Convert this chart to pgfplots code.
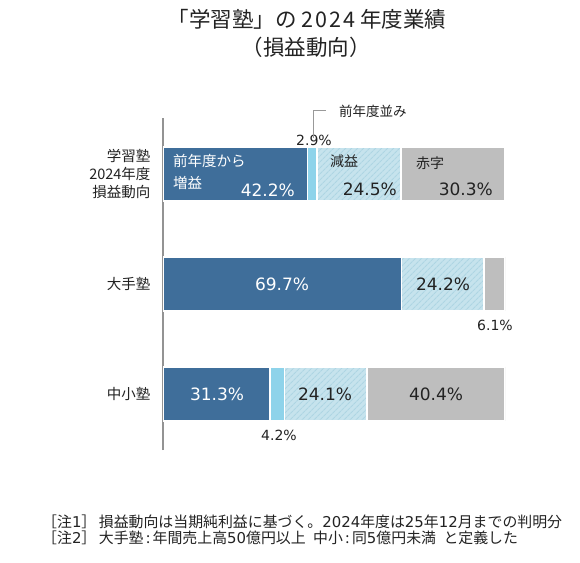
\documentclass[border=0pt]{standalone}
\usepackage{pgfplots}
\pgfplotsset{compat=1.18}
\usepackage{fontspec}
\usetikzlibrary{patterns.meta}
\setmainfont{Noto Sans CJK JP}
\newfontfamily\num{DejaVu Sans}

\definecolor{darkblue}{HTML}{3F6E9A}
\definecolor{lightblue}{HTML}{8ED3EA}
\definecolor{hatchbg}{HTML}{C6E3ED}
\definecolor{hatchln}{HTML}{AED5E3}
\definecolor{graybar}{HTML}{BEBEBE}
\definecolor{txt}{HTML}{222222}

\begin{document}
\begin{tikzpicture}[x=1pt,y=1pt]
\useasboundingbox (0,0) rectangle (580,562);

% title
\node[font=\fontsize{21.5}{24}\selectfont, text=txt] at (307,543) {「学習塾」の 2\kern2pt0\kern2pt2\kern2pt4 年度業績};
\node[font=\fontsize{21.5}{24}\selectfont, text=txt] at (306,515) {（損益動向）};

\begin{axis}[
    at={(163pt,112pt)}, anchor=south west,
    scale only axis,
    width=342pt, height=332pt,
    xbar stacked,
    bar width=54pt,
    xmin=0, xmax=100,
    ymin=0.49, ymax=3.51,
    axis x line=none,
    axis y line*=left,
    y axis line style={draw=gray!85, line width=1.5pt},
    xtick=\empty,
    ytick={1,2,3},
    yticklabels={中小塾, 大手塾, {学習塾\\2024年度\\損益動向}},
    major tick length=0pt,
    yticklabel style={align=right, text=txt, xshift=-9pt,
        font=\fontsize{14.5}{18}\selectfont},
    every axis plot/.append style={draw=white, line width=1.6pt},
]
\addplot[fill=darkblue] coordinates {(31.3,1) (69.7,2) (42.2,3)};
\addplot[fill=lightblue] coordinates {(4.2,1) (0,2) (2.9,3)};
\addplot[fill=hatchbg, postaction={pattern={Lines[angle=45,distance=4pt,line width=1.2pt]}, pattern color=hatchln}]
    coordinates {(24.1,1) (24.2,2) (24.5,3)};
\addplot[fill=graybar] coordinates {(40.4,1) (6.1,2) (30.3,3)};
\end{axis}

% row 1 labels
\node[anchor=west, text=white, font=\fontsize{14.5}{16}\selectfont, inner sep=0] at (173,401) {前年度から};
\node[anchor=west, text=white, font=\fontsize{14.5}{16}\selectfont, inner sep=0] at (173,379) {増益};
\node[anchor=east, text=white, font=\num\fontsize{17}{20}\selectfont, inner sep=0] at (295,372) {42.2\%};
\node[anchor=west, text=txt, font=\fontsize{14}{16}\selectfont, inner sep=0] at (330,401) {減益};
\node[anchor=east, text=txt, font=\num\fontsize{17}{20}\selectfont, inner sep=0] at (397,373) {24.5\%};
\node[anchor=west, text=txt, font=\fontsize{14}{16}\selectfont, inner sep=0] at (416,399) {赤字};
\node[anchor=east, text=txt, font=\num\fontsize{17}{20}\selectfont, inner sep=0] at (493,373) {30.3\%};
\node[text=txt, font=\num\fontsize{14}{16}\selectfont, inner sep=0] at (314,422) {2.9\%};
\draw[gray!80, line width=0.8pt] (313,424) -- (313,452) -- (326,452);
\node[anchor=west, text=txt, font=\fontsize{13.5}{15}\selectfont, inner sep=0] at (339,451) {前年度並み};

% row 2 labels
\node[text=white, font=\num\fontsize{17}{20}\selectfont] at (282,278) {69.7\%};
\node[text=txt, font=\num\fontsize{17}{20}\selectfont] at (443,278) {24.2\%};
\node[text=txt, font=\num\fontsize{14}{16}\selectfont] at (495,237) {6.1\%};

% row 3 labels
\node[text=white, font=\num\fontsize{17}{20}\selectfont] at (217,168) {31.3\%};
\node[text=txt, font=\num\fontsize{17}{20}\selectfont] at (325,168) {24.1\%};
\node[text=txt, font=\num\fontsize{17}{20}\selectfont] at (436,168) {40.4\%};
\node[text=txt, font=\num\fontsize{14}{16}\selectfont] at (279,127) {4.2\%};

% notes
\node[anchor=west, text=txt, font=\fontsize{14.9}{17}\selectfont, inner sep=0] at (42,40) {［注{\num 1}］\,損益動向は当期純利益に基づく。{\num 2024}年度は{\num 25}年{\num 12}月までの判明分};
\node[anchor=west, text=txt, font=\fontsize{14.9}{17}\selectfont, inner sep=0] at (42,24) {［注{\num 2}］\,大手塾\,:\,年間売上高{\num 50}億円以上\enspace 中小\,:\,同{\num 5}億円未満\enspace と定義した};
\end{tikzpicture}
\end{document}
